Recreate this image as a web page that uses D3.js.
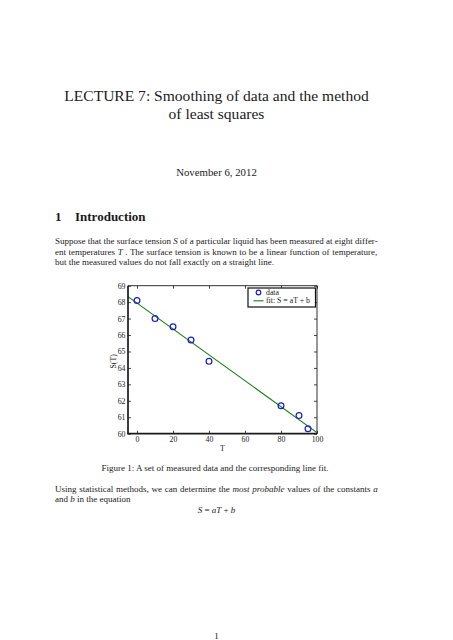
<!DOCTYPE html>
<html>
<head>
<meta charset="utf-8">
<script src="https://cdn.jsdelivr.net/npm/d3@7"></script>
<style>
  body { margin: 0; background: #fff; }
  svg { display: block; }
  text { font-family: "Liberation Serif", "Times New Roman", serif; fill: #1a1a1a; }
</style>
</head>
<body>
<div id="page"></div>
<script>
const temps = [0, 10, 20, 30, 40, 80, 90, 95];
const tension = [68.1, 67.0, 66.5, 65.7, 64.4, 61.7, 61.1, 60.3];
const xTicks = [0, 20, 40, 60, 80, 100];
const yTicks = [60, 61, 62, 63, 64, 65, 66, 67, 68, 69];
const legendLabels = ["data", "fit: S = aT + b"];

// least squares fit S = aT + b
const mT = d3.mean(temps), mS = d3.mean(tension);
const a = d3.sum(temps, (t, i) => (t - mT) * (tension[i] - mS)) / d3.sum(temps, t => (t - mT) ** 2);
const b = mS - a * mT;

var W = 453, H = 640;
var svg = d3.select("#page").append("svg")
  .attr("width", W).attr("height", H);
svg.append("rect").attr("width", W).attr("height", H).attr("fill", "#fff");

// ---------- page text ----------
function centered(txt, y, size, weight) {
  return svg.append("text").attr("x", 216.5).attr("y", y)
    .attr("text-anchor", "middle").style("font-size", size + "px")
    .style("font-weight", weight || "normal").text(txt);
}

centered("LECTURE 7: Smoothing of data and the method", 101, 15.55);
centered("of least squares", 119, 15.55);
centered("November 6, 2012", 175.7, 10.8);

svg.append("text").attr("x", 55).attr("y", 220.7)
  .style("font-size", "13px").style("font-weight", "bold").text("1");
svg.append("text").attr("x", 75).attr("y", 220.7)
  .style("font-size", "13px").style("font-weight", "bold").text("Introduction");

// a line of body text made of [string, italic] pieces, optionally justified
function line(parts, y, justify) {
  var t = svg.append("text").attr("x", 55).attr("y", y).style("font-size", "9px");
  parts.forEach(p => {
    t.append("tspan").style("font-style", p[1] ? "italic" : "normal").text(p[0]);
  });
  if (justify) {
    var len = t.node().getComputedTextLength();
    var spaces = parts.map(p => p[0]).join("").split(" ").length - 1;
    t.style("word-spacing", ((322.7 - len) / spaces) + "px");
  }
  return t;
}

line([["Suppose that the surface tension "], ["S", 1], [" of a particular liquid has been measured at eight differ-"]], 244.3, true);
line([["ent temperatures "], ["T", 1], [" .  The surface tension is known to be a linear function of temperature,"]], 254.6, true);
line([["but the measured values do not fall exactly on a straight line."]], 265);

centered("Figure 1: A set of measured data and the corresponding line fit.", 470.7, 9).attr("x", 215);

line([["Using statistical methods, we can determine the "], ["most probable", 1], [" values of the constants "], ["a", 1]], 491.7, true);
line([["and "], ["b", 1], [" in the equation"]], 502.3);

var eq = svg.append("text").attr("x", 216.5).attr("y", 513.3)
  .attr("text-anchor", "middle").style("font-size", "9px");
eq.append("tspan").style("font-style", "italic").text("S");
eq.append("tspan").text(" = ");
eq.append("tspan").style("font-style", "italic").text("aT");
eq.append("tspan").text(" + ");
eq.append("tspan").style("font-style", "italic").text("b");

centered("1", 639, 9);

// ---------- chart ----------
var x = d3.scaleLinear().domain([-5, 100]).range([128, 317]);
var y = d3.scaleLinear().domain([60, 69]).range([433.7, 285.7]);

var chart = svg.append("g");

// fit line, clipped to the axes box
chart.append("clipPath").attr("id", "box")
  .append("rect").attr("x", x(-5)).attr("y", y(69))
  .attr("width", x(100) - x(-5)).attr("height", y(60) - y(69));

chart.append("path")
  .datum([-5, 100])
  .attr("clip-path", "url(#box)")
  .attr("fill", "none").attr("stroke", "#138013").attr("stroke-width", 1.1)
  .attr("d", d3.line().x(d => x(d)).y(d => y(a * d + b)));

// data circles
chart.selectAll(".pt")
  .data(temps)
  .enter().append("circle")
  .attr("class", "pt")
  .attr("cx", d => x(d))
  .attr("cy", (d, i) => y(tension[i]))
  .attr("r", 2.9)
  .attr("fill", "none").attr("stroke", "#1c1cc8").attr("stroke-width", 1.2);

// axes (ticks pointing inward)
function styleAxis(g) {
  g.select(".domain").remove();
  g.selectAll(".tick line").attr("stroke", "#1a1a1a").attr("stroke-width", 0.8);
  g.selectAll(".tick text").style("font-size", "7.8px").attr("fill", "#1a1a1a")
    .style("font-family", '"Liberation Serif", serif');
}

chart.append("g").attr("transform", "translate(0," + y(60) + ")")
  .call(d3.axisBottom(x).tickValues(xTicks).tickSizeInner(-3).tickSizeOuter(0).tickPadding(2.5))
  .call(styleAxis);
chart.append("g").attr("transform", "translate(0," + y(69) + ")")
  .call(d3.axisTop(x).tickValues(xTicks).tickSizeInner(-3).tickSizeOuter(0).tickFormat(""))
  .call(styleAxis);
chart.append("g").attr("transform", "translate(" + x(-5) + ",0)")
  .call(d3.axisLeft(y).tickValues(yTicks).tickSizeInner(-3).tickSizeOuter(0).tickPadding(2.5))
  .call(styleAxis);
chart.append("g").attr("transform", "translate(" + x(100) + ",0)")
  .call(d3.axisRight(y).tickValues(yTicks).tickSizeInner(-3).tickSizeOuter(0).tickFormat(""))
  .call(styleAxis);

// box: heavier on left/bottom
chart.append("line").attr("x1", x(-5)).attr("x2", x(100)).attr("y1", y(69)).attr("y2", y(69))
  .attr("stroke", "#1a1a1a").attr("stroke-width", 0.9);
chart.append("line").attr("x1", x(100)).attr("x2", x(100)).attr("y1", y(69)).attr("y2", y(60))
  .attr("stroke", "#1a1a1a").attr("stroke-width", 0.9);
chart.append("line").attr("x1", x(-5) - 0.8).attr("x2", x(100)).attr("y1", y(60)).attr("y2", y(60))
  .attr("stroke", "#1a1a1a").attr("stroke-width", 1.7);
chart.append("line").attr("x1", x(-5)).attr("x2", x(-5)).attr("y1", y(69)).attr("y2", y(60))
  .attr("stroke", "#1a1a1a").attr("stroke-width", 1.7);

// axis labels
chart.append("text").attr("x", (x(-5) + x(100)) / 2).attr("y", 450.5)
  .attr("text-anchor", "middle").style("font-size", "7.8px").text("T");
chart.append("text")
  .attr("transform", "translate(116," + (y(64.4)) + ") rotate(-90)")
  .attr("text-anchor", "middle").style("font-size", "7.8px").text("S(T)");

// legend
var lg = chart.append("g");
lg.append("rect").attr("x", 248).attr("y", 288).attr("width", 67.5).attr("height", 19)
  .attr("fill", "#fff").attr("stroke", "#111").attr("stroke-width", 1.2);
lg.append("circle").attr("cx", 258.5).attr("cy", 292.5).attr("r", 2.3)
  .attr("fill", "none").attr("stroke", "#1c1cc8").attr("stroke-width", 1.2);
lg.append("line").attr("x1", 253.5).attr("x2", 263.5).attr("y1", 300.8).attr("y2", 300.8)
  .attr("stroke", "#138013").attr("stroke-width", 1.1);
lg.selectAll(".lt").data(legendLabels).enter().append("text")
  .attr("class", "lt")
  .attr("x", 266).attr("y", (d, i) => 295 + i * 7.6)
  .style("font-size", "7.8px").text(d => d);
</script>
</body>
</html>
